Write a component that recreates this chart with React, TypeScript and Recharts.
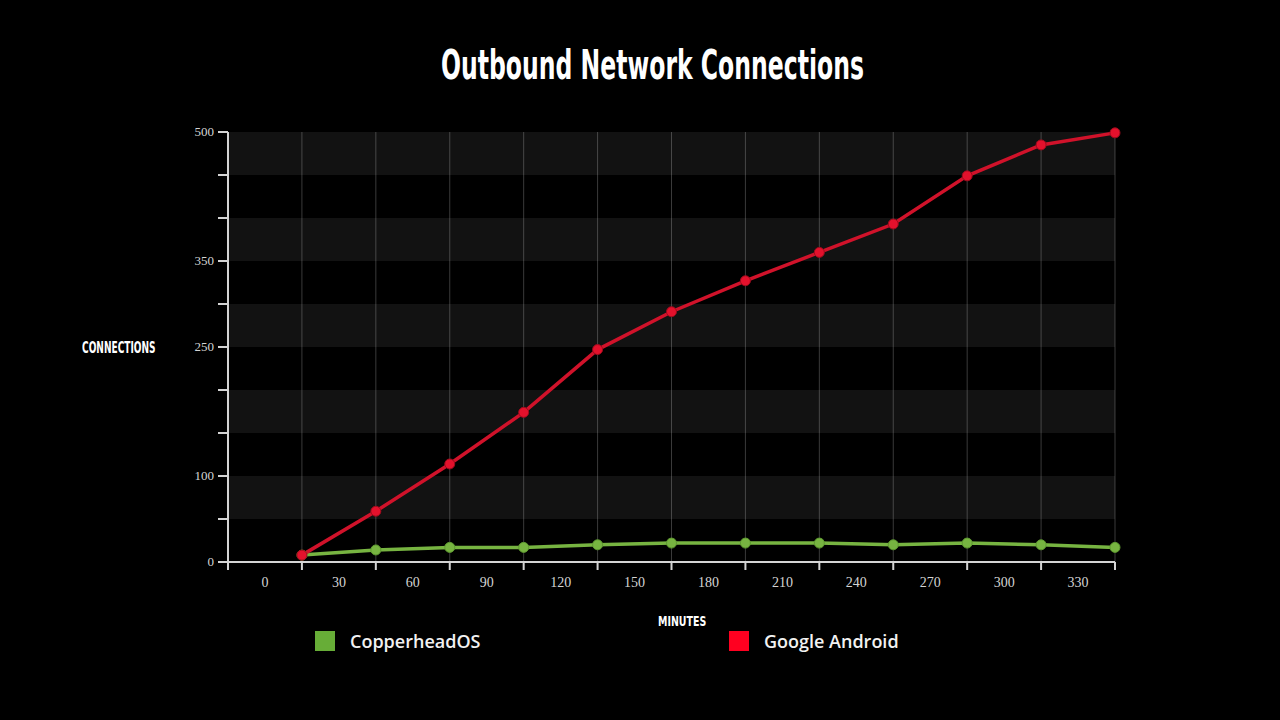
import { CartesianGrid, Line, LineChart, ReferenceArea, XAxis, YAxis } from "recharts";

const minutes = [30, 60, 90, 120, 150, 180, 210, 240, 270, 300, 330, 360];
const androidConnections = [8, 59, 114, 174, 247, 291, 327, 360, 393, 449, 485, 499];
const copperheadConnections = [8, 14, 17, 17, 20, 22, 22, 22, 20, 22, 20, 17];

const xTicks = [0, 30, 60, 90, 120, 150, 180, 210, 240, 270, 300, 330, 360];
const yTicks = [0, 50, 100, 150, 200, 250, 300, 350, 400, 450, 500];
const yLabels = [0, 100, 250, 350, 500];

const data = minutes.map((m, i) => ({
	minute: m,
	android: androidConnections[i],
	copperhead: copperheadConnections[i],
}));

// shaded horizontal bands: every other 50-unit step
const bands = yTicks.slice(1).filter((_, i) => i % 2 === 0).map((t) => [t, t + 50]);

const RED = "#e3112c";
const GREEN = "#77b441";
const AXIS = "#d4d4d4";
const condensed = '"DejaVu Sans Condensed", "DejaVu Sans", sans-serif';
const serif = '"Liberation Serif", "DejaVu Serif", serif';

function XTick({ x, y, payload }: any) {
	if (payload.value === 360) return null;
	return (
		<text x={x + 37} y={y + 15} textAnchor="middle" fill={AXIS} fontFamily={serif} fontSize={14}>
			{payload.value}
		</text>
	);
}

function YTick({ x, y, payload }: any) {
	if (!yLabels.includes(payload.value)) return null;
	return (
		<text x={x - 2} y={y + 4} textAnchor="end" fill={AXIS} fontFamily={serif} fontSize={13}>
			{payload.value}
		</text>
	);
}

function LegendItem({ left, color, label }: { left: number; color: string; label: string }) {
	return (
		<div style={{ position: "absolute", left, top: 629, display: "flex", alignItems: "center" }}>
			<div style={{ width: 20, height: 20, background: color }} />
			<span
				style={{
					marginLeft: 15,
					color: "#f2f2f2",
					fontFamily: '"Open Sans", sans-serif',
					fontWeight: 600,
					fontSize: 18,
				}}
			>
				{label}
			</span>
		</div>
	);
}

function Squeezed({
	left,
	top,
	size,
	scale,
	children,
}: {
	left: number;
	top: number;
	size: number;
	scale: number;
	children: string;
}) {
	return (
		<div
			style={{
				position: "absolute",
				left,
				top,
				color: "#fff",
				fontFamily: condensed,
				fontWeight: 700,
				fontSize: size,
				whiteSpace: "nowrap",
				transform: `scaleX(${scale})`,
				transformOrigin: "left top",
			}}
		>
			{children}
		</div>
	);
}

export default function App() {
	return (
		<div
			style={{
				position: "absolute",
				left: 0,
				top: 0,
				width: 1280,
				height: 720,
				background: "#000",
				overflow: "hidden",
			}}
		>
			<Squeezed left={441} top={41} size={41} scale={0.638}>
				Outbound Network Connections
			</Squeezed>
			<Squeezed left={82} top={339} size={15} scale={0.67}>
				CONNECTIONS
			</Squeezed>
			<Squeezed left={658} top={613} size={14} scale={0.75}>
				MINUTES
			</Squeezed>
			<LineChart
				width={1280}
				height={720}
				data={data}
				margin={{ top: 132, right: 165, bottom: 128, left: 168 }}
				style={{ position: "absolute", left: 0, top: 0 }}
			>
				<CartesianGrid horizontal={false} stroke="#3a3a3a" strokeWidth={1} />
				{bands.map(([y1, y2]) => (
					<ReferenceArea key={y1} y1={y1} y2={y2} fill="#ffffff" fillOpacity={0.07} stroke="none" />
				))}
				<XAxis
					dataKey="minute"
					type="number"
					domain={[0, 360]}
					ticks={xTicks}
					interval={0}
					height={30}
					tickSize={8}
					axisLine={{ stroke: AXIS, strokeWidth: 2 }}
					tickLine={{ stroke: AXIS, strokeWidth: 2 }}
					tick={<XTick />}
				/>
				<YAxis
					type="number"
					domain={[0, 500]}
					ticks={yTicks}
					interval={0}
					width={60}
					tickSize={10}
					axisLine={{ stroke: AXIS, strokeWidth: 2 }}
					tickLine={{ stroke: AXIS, strokeWidth: 2 }}
					tick={<YTick />}
				/>
				<Line
					dataKey="copperhead"
					stroke={GREEN}
					strokeWidth={3.5}
					dot={{ r: 5, fill: GREEN, stroke: "#5e9a30", strokeWidth: 1 }}
					isAnimationActive={false}
				/>
				<Line
					dataKey="android"
					stroke="#d0122a"
					strokeWidth={3.5}
					dot={{ r: 5, fill: RED, stroke: "#9c0b1c", strokeWidth: 1 }}
					isAnimationActive={false}
				/>
			</LineChart>
			<LegendItem left={315} color="#67ad37" label="CopperheadOS" />
			<LegendItem left={729} color="#ff0020" label="Google Android" />
		</div>
	);
}
